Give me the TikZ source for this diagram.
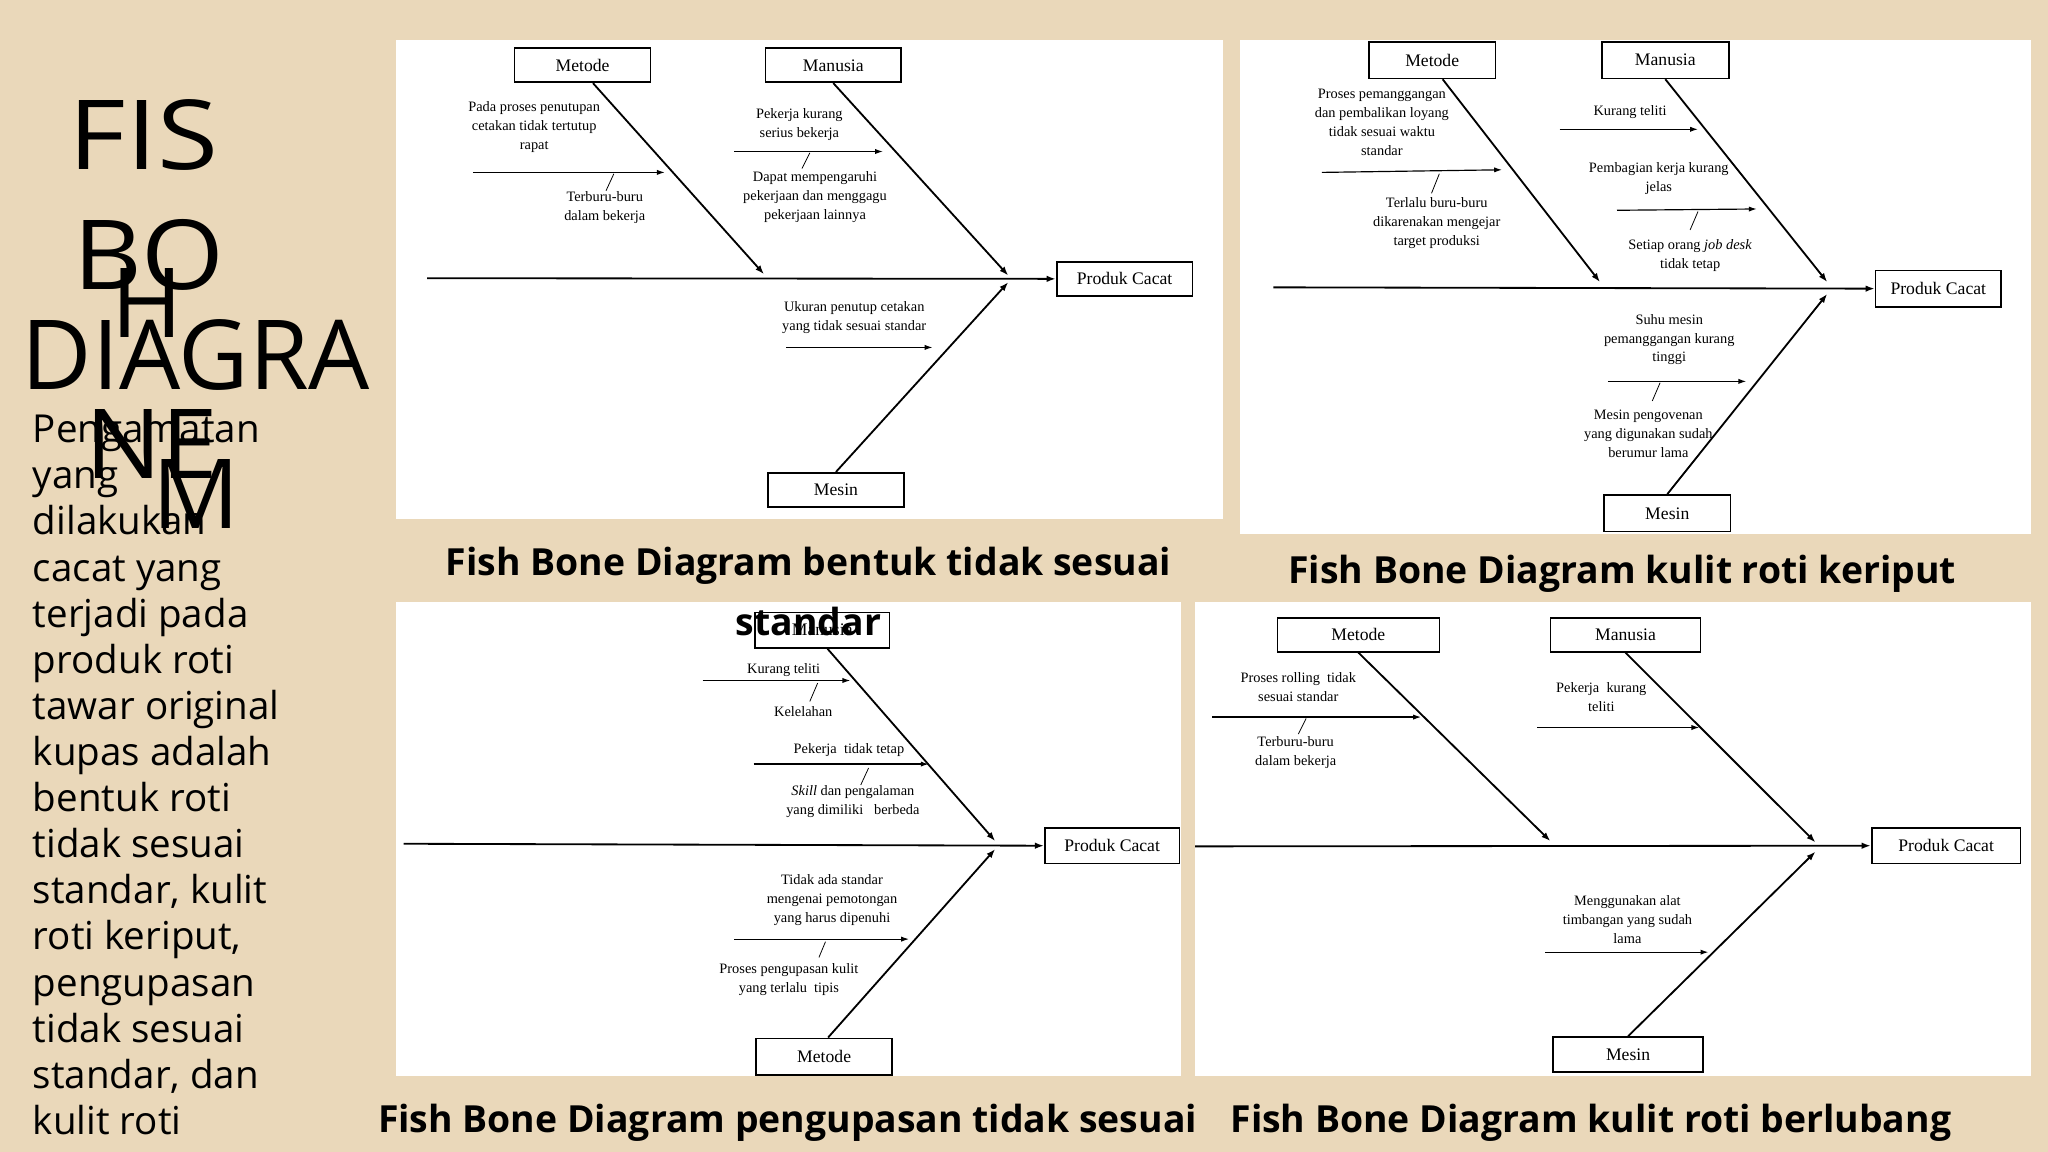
\documentclass[tikz,border=0pt]{standalone}
\usepackage{fontspec}
\setmainfont{Liberation Serif}
\newfontfamily\osans{Open Sans}
\usetikzlibrary{arrows.meta}
\begin{document}
\begin{tikzpicture}[x=1pt,y=-1pt,
 panel/.style={fill=white,draw=none},
 box/.style={draw,line width=1.3pt,minimum width=#1,minimum height=26,inner sep=0pt,font=\fontsize{13.5}{13.5}\selectfont},
 box/.default=104,
 bone/.style={line width=1.4pt,-{Latex[length=7,width=5]}},
 sub/.style={line width=0.9pt,-{Latex[length=6,width=4]}},
 tick/.style={line width=0.6pt},
 lbl/.style={align=center,font=\fontsize{11}{14.5}\selectfont,inner sep=0pt},
 captxt/.style={font=\osans\bfseries\fontsize{28.6}{30}\selectfont,inner sep=0pt},
 big/.style={font=\osans\fontsize{74}{74}\selectfont,inner sep=0pt},
 body/.style={font=\osans\fontsize{29.5}{30}\selectfont,inner sep=0pt,anchor=base west}]
\fill[color={rgb,255:red,234;green,216;blue,186}] (0,0) rectangle (1568,882);
\useasboundingbox (0,0) rectangle (1568,882);
% left text
\node[big,xscale=1.15] (t1) at (110,103) {FIS};
\node[big,xscale=1.1] (t2) at (114,195) {BO};
\node[big] (t3) at (113,232) {H};
\node[big] (t4) at (150,272) {DIAGRA};
\node[big,xscale=1.05] (t5) at (116,340) {NE};
\node[big] (t6) at (150,378) {M};
\foreach \t [count=\i] in {Pengamatan,yang,dilakukan,cacat yang,terjadi pada,produk roti,tawar original,kupas adalah,bentuk roti,tidak sesuai,{standar, kulit},{roti keriput,},pengupasan,tidak sesuai,{standar, dan},kulit roti}
  \node[body] (b\i) at (25,{339+(\i-1)*35.3}) {\t};
% ---------- Panel 1
\fill[panel] (303,31) rectangle (936,397);
\node[box] (a-met) at (446,50) {Metode};
\node[box] (a-man) at (638,50) {Manusia};
\node[box] (a-mes) at (640,375) {Mesin};
\node[box] (a-pc) at (861,213.5) {Produk Cacat};
\coordinate (a-s) at (327,213);
\draw[bone] (a-s) -- (a-pc.west);
\coordinate (a-m1) at (585,210); \coordinate (a-m2) at (772,211); \coordinate (a-m3) at (772,216);
\draw[bone] (a-met.south)++(8,0) -- (a-m1);
\draw[bone] (a-man.south) -- (a-m2);
\draw[bone] (a-mes.north) -- (a-m3);
\node[lbl] (a1) at (409,97) {Pada proses penutupan\\cetakan tidak tertutup\\rapat};
\coordinate (a1s) at (362,132); \coordinate (a1e) at (509,132);
\draw[sub] (a1s) -- (a1e);
\draw[tick] (470,133) -- (464,146);
\node[lbl] (a2) at (463,159) {Terburu-buru\\dalam bekerja};
\node[lbl] (a3) at (612,95) {Pekerja kurang\\serius bekerja};
\coordinate (a3s) at (562,116); \coordinate (a3e) at (676,116);
\draw[sub] (a3s) -- (a3e);
\draw[tick] (620,117) -- (614,129);
\node[lbl] (a4) at (624,151) {Dapat mempengaruhi\\pekerjaan dan menggagu\\pekerjaan lainnya};
\node[lbl] (a5) at (654,243) {Ukuran penutup cetakan\\yang tidak sesuai standar};
\coordinate (a5s) at (602,266); \coordinate (a5e) at (714,266);
\draw[sub] (a5s) -- (a5e);
% ---------- Panel 2
\fill[panel] (949,31) rectangle (1555,409);
\node[box=97,minimum height=28] (b-met) at (1096.5,46) {Metode};
\node[box=97,minimum height=28] (b-man) at (1275,46) {Manusia};
\node[box=97,minimum height=28] (b-mes) at (1276.5,393) {Mesin};
\node[box=96,minimum height=28] (b-pc) at (1484,221) {Produk Cacat};
\coordinate (b-s) at (975,220);
\draw[bone] (b-s) -- (b-pc.west);
\coordinate (b-m1) at (1225,216); \coordinate (b-m2) at (1399,216); \coordinate (b-m3) at (1399,225);
\draw[bone] (b-met.south)++(8,0) -- (b-m1);
\draw[bone] (b-man.south) -- (b-m2);
\draw[bone] (b-mes.north) -- (b-m3);
\node[lbl] (b1) at (1058,94) {Proses pemanggangan\\dan pembalikan loyang\\tidak sesuai waktu\\standar};
\coordinate (b1s) at (1012,132); \coordinate (b1e) at (1150,130);
\draw[sub] (b1s) -- (b1e);
\draw[tick] (1102,133) -- (1096,148);
\node[lbl] (b2) at (1100,171) {Terlalu buru-buru\\dikarenakan mengejar\\target produksi};
\node[lbl] (b3) at (1248,86) {Kurang teliti};
\coordinate (b3s) at (1194,99); \coordinate (b3e) at (1300,99);
\draw[sub] (b3s) -- (b3e);
\node[lbl] (b4) at (1270,137) {Pembagian kerja kurang\\jelas};
\coordinate (b4s) at (1238,161); \coordinate (b4e) at (1345,160);
\draw[sub] (b4s) -- (b4e);
\draw[tick] (1300,162) -- (1294,176);
\node[lbl] (b5) at (1294,196) {Setiap orang \textit{job desk}\\tidak tetap};
\node[lbl] (b6) at (1278,260) {Suhu mesin\\pemanggangan kurang\\tinggi};
\coordinate (b6s) at (1231,292); \coordinate (b6e) at (1337,292);
\draw[sub] (b6s) -- (b6e);
\draw[tick] (1271,293) -- (1265,307);
\node[lbl] (b7) at (1262,332) {Mesin pengovenan\\yang digunakan sudah\\berumur lama};
% ---------- Panel 3
\fill[panel] (303,461) rectangle (904,824);
\node[box=103,minimum height=27] (c-man) at (629.5,482.5) {Manusia};
\node[box=104,minimum height=28] (c-met) at (631,809) {Metode};
\node[box=103,minimum height=27] (c-pc) at (851.5,647.5) {Produk Cacat};
\coordinate (c-s) at (309,646);
\draw[bone] (c-s) -- (c-pc.west);
\coordinate (c-m1) at (762,644); \coordinate (c-m2) at (762,650);
\draw[bone] (c-man.south)++(4,0) -- (c-m1);
\draw[bone] (c-met.north)++(3,0) -- (c-m2);
\node[lbl] (c1) at (600,513) {Kurang teliti};
\coordinate (c1s) at (538,521); \coordinate (c1e) at (651,521);
\draw[sub] (c1s) -- (c1e);
\draw[tick] (626,523) -- (620,537);
\node[lbl] (c2) at (615,545) {Kelelahan};
\node[lbl] (c3) at (650,574) {Pekerja\ \ tidak tetap};
\coordinate (c3s) at (577,585); \coordinate (c3e) at (711,585);
\draw[sub] (c3s) -- (c3e);
\draw[tick] (665,588) -- (659,601);
\node[lbl] (c4) at (653,614) {\textit{Skill} dan pengalaman\\yang dimiliki\ \ \ berbeda};
\node[lbl] (c5) at (637,689) {Tidak ada standar\\mengenai pemotongan\\yang harus dipenuhi};
\coordinate (c5s) at (562,719); \coordinate (c5e) at (696,719);
\draw[sub] (c5s) -- (c5e);
\draw[tick] (632,721) -- (627,733);
\node[lbl] (c6) at (604,750) {Proses pengupasan kulit\\yang terlalu\ \ tipis};
% ---------- Panel 4
\fill[panel] (915,461) rectangle (1555,824);
\node[box=124] (d-met) at (1040,486) {Metode};
\node[box=115] (d-man) at (1244.5,486) {Manusia};
\node[box=115,minimum height=27] (d-mes) at (1246.5,807.5) {Mesin};
\node[box=114,minimum height=27] (d-pc) at (1490,647.5) {Produk Cacat};
\coordinate (d-s) at (915,648);
\draw[bone] (d-s) -- (d-pc.west);
\coordinate (d-m1) at (1187,644); \coordinate (d-m2) at (1390,645); \coordinate (d-m3) at (1390,652);
\draw[bone] (d-met.south) -- (d-m1);
\draw[bone] (d-man.south) -- (d-m2);
\draw[bone] (d-mes.north) -- (d-m3);
\node[lbl] (d1) at (994,526) {Proses rolling\ \ tidak\\sesuai standar};
\coordinate (d1s) at (928,549); \coordinate (d1e) at (1088,549);
\draw[sub] (d1s) -- (d1e);
\draw[tick] (1000,550) -- (994,562);
\node[lbl] (d2) at (992,576) {Terburu-buru\\dalam bekerja};
\node[lbl] (d3) at (1226,534) {Pekerja\ \ kurang\\teliti};
\coordinate (d3s) at (1177,557); \coordinate (d3e) at (1301,557);
\draw[sub] (d3s) -- (d3e);
\node[lbl] (d4) at (1246,704) {Menggunakan alat\\timbangan yang\ sudah\\lama};
\coordinate (d4s) at (1183,729); \coordinate (d4e) at (1308,729);
\draw[sub] (d4s) -- (d4e);
% captions
\node[captxt] (k1) at (619,433) {Fish Bone Diagram bentuk tidak sesuai};
\node[captxt] (k1b) at (619,476) {standar};
\node[captxt] (k2) at (1242,439) {Fish Bone Diagram kulit roti keriput};
\node[captxt] (k3) at (603,860) {Fish Bone Diagram pengupasan tidak sesuai};
\node[captxt] (k4) at (1218,860) {Fish Bone Diagram kulit roti berlubang};
\end{tikzpicture}
\end{document}
